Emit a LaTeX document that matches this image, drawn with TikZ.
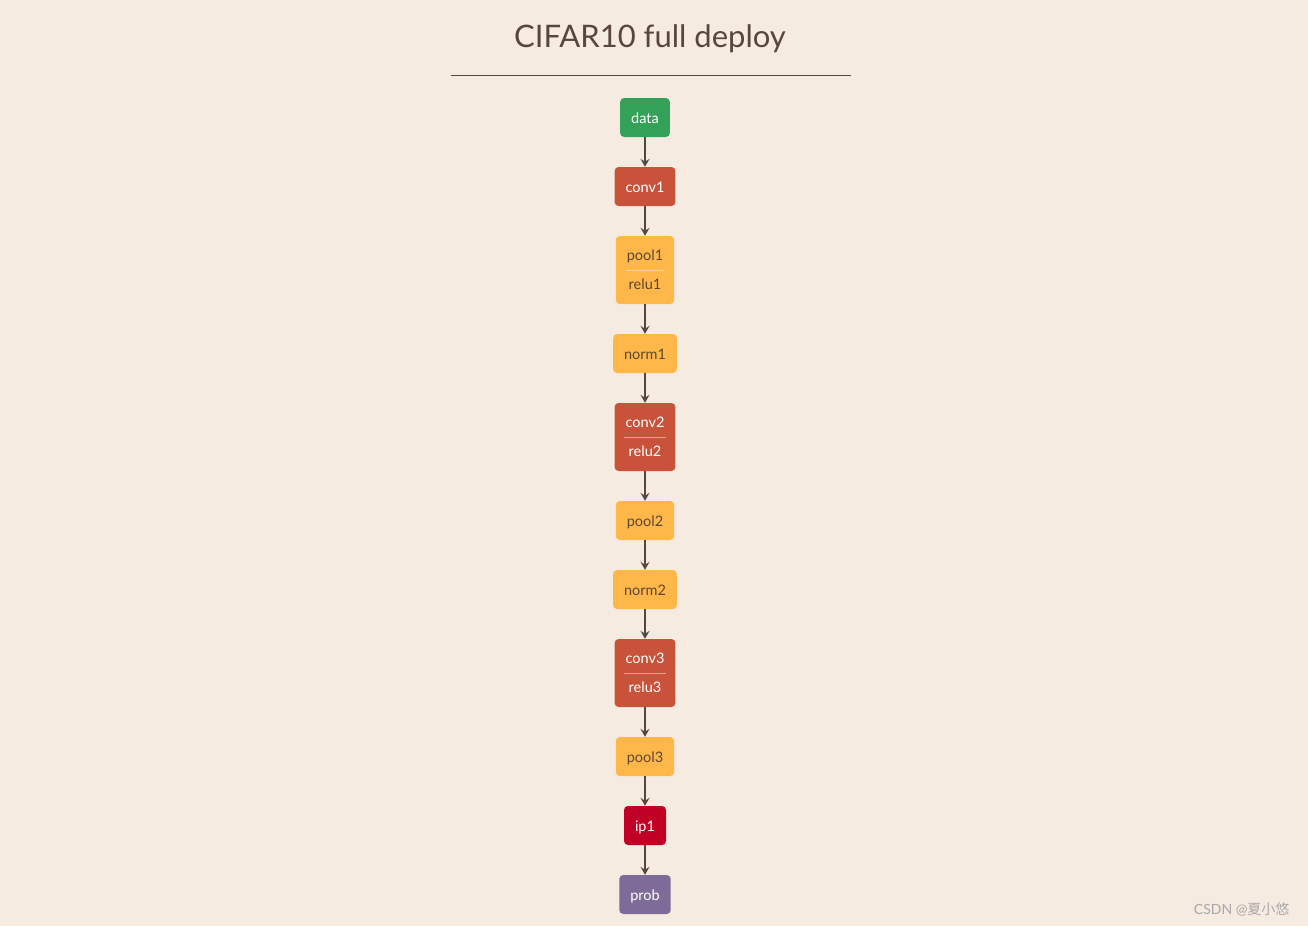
\documentclass[tikz,border=0pt]{standalone}
\usepackage{fontspec}
\usepackage{tikz}
\usetikzlibrary{arrows.meta}
\setmainfont{Lato}
\newfontfamily\cjk{Noto Sans CJK SC}
\definecolor{paper}{RGB}{246,235,224}
\definecolor{ink}{RGB}{88,70,62}
\definecolor{datagreen}{RGB}{52,161,88}
\definecolor{convred}{RGB}{200,82,58}
\definecolor{poolyellow}{RGB}{255,183,74}
\definecolor{ipred}{RGB}{192,0,36}
\definecolor{probpurple}{RGB}{126,107,152}
\definecolor{yellowtext}{RGB}{92,70,50}
\definecolor{creditgray}{RGB}{168,168,168}

\begin{document}
\begin{tikzpicture}[x=1pt, y=-1pt,
  layer/.style={rounded corners=4pt, inner xsep=11pt, inner ysep=0pt, minimum height=39pt,
    text height=11pt, text depth=0pt, font=\fontsize{14.5}{17}\selectfont},
  twolayer/.style={rounded corners=4pt, inner xsep=11pt, inner ysep=0pt, minimum height=68pt,
    align=center, font=\fontsize{14.5}{29}\selectfont},
  datalayer/.style={layer, fill=datagreen, text=white},
  convlayer/.style={fill=convred, text=white},
  poollayer/.style={fill=poolyellow, text=yellowtext},
  divider/.style={draw=white, opacity=0.45, line width=0.8pt},
  flow/.style={draw=ink, line width=1.4pt, -{Stealth[length=8pt, width=9pt, inset=3pt]}},
  title/.style={text=ink, font=\fontsize{31}{36}\selectfont},
  watermark/.style={text=creditgray, font=\fontsize{14}{17}\selectfont}
]
\fill[paper] (0,0) rectangle (1308,926);

% title
\node[title] (title) at (650,38.5) {CIFAR10 full deploy};
\draw[ink, line width=1pt] (451,75) -- (851,75);

% layers
\node[datalayer] (data) at (645,117.5) {data};
\node[layer, convlayer] (conv1) at (645,186.5) {conv1};
\node[twolayer, poollayer] (pool1) at (645,270) {pool1\\relu1};
\node[layer, poollayer] (norm1) at (645,353.5) {norm1};
\node[twolayer, convlayer] (conv2) at (645,437) {conv2\\relu2};
\node[layer, poollayer] (pool2) at (645,520.5) {pool2};
\node[layer, poollayer] (norm2) at (645,589.5) {norm2};
\node[twolayer, convlayer] (conv3) at (645,673) {conv3\\relu3};
\node[layer, poollayer] (pool3) at (645,756.5) {pool3};
\node[layer, fill=ipred, text=white] (ip1) at (645,825.5) {ip1};
\node[layer, fill=probpurple, text=white] (prob) at (645,894.5) {prob};

\draw[divider] ([xshift=10pt]pool1.west) -- ([xshift=-10pt]pool1.east);
\draw[divider] ([xshift=10pt]conv2.west) -- ([xshift=-10pt]conv2.east);
\draw[divider] ([xshift=10pt]conv3.west) -- ([xshift=-10pt]conv3.east);

% connections
\draw[flow] (data) -- (conv1);
\draw[flow] (conv1) -- (pool1);
\draw[flow] (pool1) -- (norm1);
\draw[flow] (norm1) -- (conv2);
\draw[flow] (conv2) -- (pool2);
\draw[flow] (pool2) -- (norm2);
\draw[flow] (norm2) -- (conv3);
\draw[flow] (conv3) -- (pool3);
\draw[flow] (pool3) -- (ip1);
\draw[flow] (ip1) -- (prob);

\node[watermark, anchor=east] (credit) at (1293,909) {CSDN @{\cjk 夏小悠}};
\end{tikzpicture}
\end{document}
